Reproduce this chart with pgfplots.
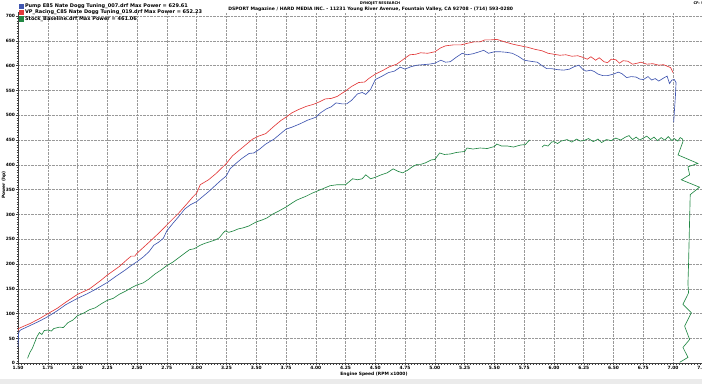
\documentclass[border=0pt]{standalone}
\usepackage{fontspec}
\setmainfont{DejaVu Sans}
\usepackage{pgfplots}
\pgfplotsset{compat=1.18}
\definecolor{cred}{RGB}{226,58,58}
\definecolor{cblue}{RGB}{64,86,176}
\definecolor{cgreen}{RGB}{34,136,68}
\newcommand{\tf}{\fontsize{4.4}{5}\selectfont\bfseries}
\newcommand{\lf}{\fontsize{5}{5.5}\selectfont\bfseries}
\newcommand{\hf}{\fontsize{4.55}{5}\selectfont\bfseries}
\newcommand{\smf}{\fontsize{3.6}{4}\selectfont\bfseries}
\begin{document}
\begin{tikzpicture}[x=1pt,y=1pt]
\useasboundingbox (0,0) rectangle (702,384);
\fill[black!8] (0,0) rectangle (702,5);
\begin{axis}[
  at={(18pt,20.7pt)}, anchor=south west,
  scale only axis, width=690.8pt, height=351.2pt,
  xmin=1.5, xmax=7.3, ymin=0, ymax=708,
  axis lines*=left,
  axis line style={black!75, line width=0.6pt},
  xtick={1.5,1.75,...,7.25},
  ytick={0,50,...,700},
  minor x tick num=9, minor y tick num=9,
  tick align=outside,
  major tick length=2pt, minor tick length=1.3pt,
  tick style={black!75, line width=0.4pt},
  grid=major,
  major grid style={densely dotted, black!40, line width=0.5pt},
  tick label style={font=\tf, inner sep=0.8pt},
  xticklabel style={/pgf/number format/fixed, /pgf/number format/fixed zerofill, /pgf/number format/precision=2},
  /pgf/number format/assume math mode=true,
  legend style={at={(axis description cs:0.0019,1.0249)}, anchor=north west, draw=none, fill=none, font=\lf, inner sep=0pt, outer sep=0pt, row sep=0.4pt, nodes={inner sep=0.7pt, text height=3.5pt, text depth=1.0pt}, /tikz/every even column/.append style={column sep=0.5pt}},
  legend cell align=left,
  legend image code/.code={\fill[#1,draw=none] (0pt,-2.6pt) rectangle (5pt,2.6pt);},
]
\addplot[cblue, line width=0.65pt] coordinates {
(1.500,33) (1.502,45) (1.505,60) (1.51,64) (1.52,67) (1.60,76) (1.68,85) (1.75,94) (1.83,106) (1.90,118) (2.00,131) (2.08,140) (2.15,149) (2.20,156) (2.25,163) (2.32,175) (2.40,188) (2.45,197) (2.50,205) (2.55,214) (2.60,225) (2.64,238) (2.68,244) (2.72,252) (2.75,267) (2.80,282) (2.85,296) (2.90,311) (2.95,320) (3.00,326) (3.05,336) (3.10,346) (3.15,357) (3.20,368) (3.25,378) (3.28,392) (3.33,403) (3.38,413) (3.44,423) (3.48,424) (3.53,432) (3.58,442) (3.65,452) (3.70,462) (3.75,472) (3.80,476) (3.87,483) (3.93,490) (4.00,496) (4.04,505) (4.09,513) (4.13,517) (4.17,525) (4.22,523) (4.26,523) (4.30,530) (4.35,543) (4.39,546) (4.42,542) (4.46,552) (4.50,572) (4.55,578) (4.61,586) (4.66,589) (4.71,597) (4.75,593) (4.80,598) (4.85,601) (4.90,602) (4.95,603) (5.00,605) (5.05,611) (5.09,607) (5.13,608) (5.18,617) (5.23,625) (5.27,622) (5.32,624) (5.36,627) (5.41,631) (5.45,625) (5.50,628) (5.55,628) (5.60,627) (5.65,625) (5.70,619) (5.75,611) (5.80,609) (5.86,607) (5.90,600) (5.94,594) (5.98,594) (6.03,592) (6.08,591) (6.13,593) (6.17,598) (6.21,601) (6.24,593) (6.27,589) (6.31,591) (6.34,588) (6.37,583) (6.41,580) (6.45,580) (6.50,583) (6.54,587) (6.57,584) (6.61,576) (6.65,578) (6.69,577) (6.72,573) (6.75,572) (6.79,578) (6.82,571) (6.85,574) (6.88,569) (6.92,575) (6.95,579) (6.97,564) (6.99,571) (7.01,572) (7.025,566) (7.02,540) (7.005,486)
};
\addlegendentry{Pump E85 Nate Dogg Tuning\_007.drf Max Power = 629.61}
\addplot[cred, line width=0.65pt] coordinates {
(1.500,66) (1.505,70) (1.55,75) (1.60,80) (1.68,90) (1.75,100) (1.83,111) (1.90,123) (2.00,139) (2.10,150) (2.20,168) (2.25,178) (2.35,195) (2.42,210) (2.45,216) (2.48,216) (2.50,222) (2.60,244) (2.68,262) (2.75,279) (2.85,303) (2.92,322) (2.97,336) (3.00,343) (3.03,360) (3.10,370) (3.16,382) (3.22,396) (3.25,403) (3.30,418) (3.36,430) (3.42,442) (3.47,452) (3.52,458) (3.58,463) (3.65,478) (3.71,490) (3.75,496) (3.80,505) (3.86,512) (3.92,518) (3.98,522) (4.03,527) (4.08,533) (4.13,534) (4.18,538) (4.25,549) (4.30,558) (4.36,566) (4.41,567) (4.45,575) (4.50,583) (4.56,590) (4.62,598) (4.68,603) (4.72,610) (4.76,617) (4.79,622) (4.84,623) (4.88,626) (4.94,625) (5.00,628) (5.05,636) (5.09,640) (5.16,642) (5.22,642) (5.27,645) (5.33,648) (5.38,648) (5.42,652) (5.47,652) (5.52,653) (5.56,650) (5.60,647) (5.66,643) (5.72,640) (5.78,637) (5.84,633) (5.90,630) (5.95,625) (6.00,623) (6.05,621) (6.10,622) (6.15,619) (6.20,620) (6.24,617) (6.28,613) (6.31,618) (6.35,611) (6.38,616) (6.42,608) (6.45,606) (6.48,613) (6.52,612) (6.55,605) (6.58,610) (6.62,609) (6.66,603) (6.70,605) (6.73,607) (6.78,603) (6.83,604) (6.88,601) (6.92,602) (6.96,598) (6.98,596) (7.00,586)
};
\addlegendentry{VP\_Racing\_C85 Nate Dogg Tuning\_019.drf Max Power = 652.23}
\addplot[cgreen, line width=0.65pt] coordinates {
(1.58,10) (1.60,22) (1.62,30) (1.64,42) (1.66,54) (1.68,62) (1.70,58) (1.72,66) (1.75,67) (1.78,65) (1.80,70) (1.85,73) (1.88,72) (1.92,82) (1.96,87) (2.00,96) (2.05,101) (2.10,108) (2.15,112) (2.20,120) (2.25,127) (2.30,131) (2.35,139) (2.40,145) (2.45,152) (2.50,158) (2.55,162) (2.60,170) (2.65,180) (2.70,188) (2.75,197) (2.80,204) (2.85,213) (2.90,222) (2.94,229) (2.98,231) (3.03,238) (3.07,242) (3.11,245) (3.16,249) (3.19,253) (3.22,262) (3.24,267) (3.27,264) (3.31,267) (3.35,271) (3.39,273) (3.44,277) (3.50,285) (3.55,289) (3.59,293) (3.64,301) (3.69,307) (3.75,315) (3.80,323) (3.84,329) (3.87,332) (3.92,337) (3.97,343) (4.02,348) (4.06,352) (4.12,358) (4.18,360) (4.25,360) (4.28,366) (4.31,372) (4.35,370) (4.39,372) (4.42,380) (4.46,372) (4.50,375) (4.55,380) (4.60,384) (4.65,392) (4.69,387) (4.73,384) (4.77,389) (4.81,396) (4.85,401) (4.88,401) (4.92,404) (4.97,410) (5.00,411) (5.04,424) (5.08,421) (5.13,422) (5.18,425) (5.25,427) (5.27,434) (5.32,432) (5.38,434) (5.44,433) (5.50,437) (5.52,442) (5.56,438) (5.61,438) (5.66,436) (5.72,440) (5.76,441) (5.79,449) (5.80,450)
};
\addlegendentry{Stock\_Baseline.drf Max Power = 461.06}
\addplot[cgreen, line width=0.65pt, forget plot] coordinates {
(5.90,436) (5.92,440) (5.95,438) (5.98,446) (6.00,447) (6.03,443) (6.06,448) (6.11,451) (6.15,446) (6.19,452) (6.22,448) (6.25,449) (6.29,453) (6.33,447) (6.37,452) (6.40,445) (6.44,451) (6.48,449) (6.52,454) (6.56,450) (6.60,456) (6.63,459) (6.66,451) (6.69,456) (6.72,450) (6.75,454) (6.78,458) (6.81,451) (6.84,456) (6.87,449) (6.90,455) (6.93,450) (6.96,457) (6.99,449) (7.01,453) (7.04,448) (7.06,455) (7.08,452) (7.083,447) (7.042,420) (7.208,403) (7.125,396) (7.139,380) (7.069,370) (7.222,355) (7.144,340) (7.14,300) (7.135,250) (7.13,200) (7.125,160) (7.13,142) (7.083,119) (7.153,102) (7.097,75) (7.139,48) (7.083,32) (7.125,12) (7.056,2)
};
\end{axis}
\node[font=\smf] at (380,380.7) {DYNOJET RESEARCH};
\node[font=\hf] at (370.7,375) {DSPORT Magazine / HARD MEDIA INC. - 11231 Young River Avenue, Fountain Valley, CA 92708 - (714) 593-0280};
\node[font=\smf, anchor=west] at (690,380.7) {CF: SAE};
\node[font=\tf, rotate=90] at (4,199) {Power (hp)};
\node[font=\tf] at (374,9.7) {Engine Speed (RPM x1000)};
\end{tikzpicture}
\end{document}
